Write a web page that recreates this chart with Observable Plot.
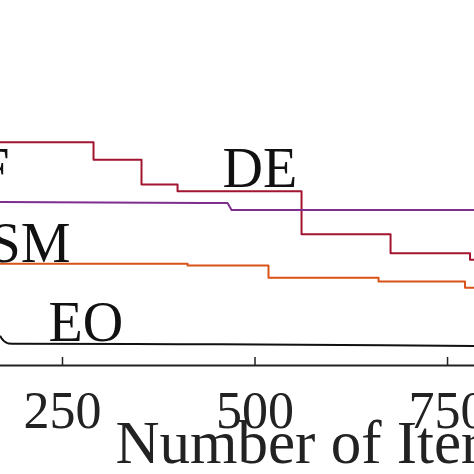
<!DOCTYPE html>
<html>
<head>
<meta charset="utf-8">
<script src="https://cdn.jsdelivr.net/npm/d3@7"></script>
<script src="https://cdn.jsdelivr.net/npm/@observablehq/plot@0.6"></script>
<style>
  html, body { margin: 0; padding: 0; background: #fff; overflow: hidden; }
  #chart svg { display: block; }
</style>
</head>
<body>
<div id="chart"></div>
<script>
// Iteration positions and fitness values (arbitrary units)
const deX = [169.5, 290.3, 352.6, 399.4, 560.4, 676, 779.2, 785];
const deY = [63.8, 58.8, 51.7, 49.8, 37.5, 32.1, 30.2, 30.2];

const purpleX = [169.5, 431.8, 464.3, 469.5, 785];
const purpleY = [46.7, 46.4, 46.4, 44.4, 44.4];

const smX = [169.5, 412.4, 517.5, 660.4, 772.7, 785];
const smY = [29.1, 28.6, 25.1, 24.0, 22.2, 22.2];

const eoX = [169.5, 171.5, 173.4, 176.5, 180, 190, 400, 559, 785];
const eoY = [8.3, 7.6, 7.1, 6.6, 6.3, 6.2, 6.1, 5.9, 5.6];

const xTicks = [250, 500, 750];

const labelText = ["F", "DE", "SM", "EO"];
const labelX = [181.2, 457.8, 260.4, 231.8];
const labelY = [50.9, 50.9, 29.7, 6.9];
const labelAnchor = ["end", "start", "end", "start"];

const toRows = (xs, ys) => xs.map((x, i) => ({x, y: ys[i]}));
const labels = labelText.map((t, i) => ({t, x: labelX[i], y: labelY[i], a: labelAnchor[i]}));

const font = "'Liberation Serif', 'Times New Roman', serif";

const chart = Plot.plot({
  width: 474,
  height: 474,
  marginLeft: 0,
  marginRight: 0,
  marginTop: 15,
  marginBottom: 109,
  style: {fontFamily: font, background: "#fff", overflow: "visible"},
  x: {domain: [169.5, 785]},
  y: {domain: [0, 100], axis: null},
  marks: [
    Plot.axisX({ticks: xTicks, tickSize: 0, tickPadding: 26, fontSize: 52, fontFamily: font, label: null, color: "#222"}),
    Plot.ruleY([0], {stroke: "#222", strokeWidth: 2}),
    Plot.ruleX(xTicks, {x: d => d, y1: 0, y2: 2.3, stroke: "#222", strokeWidth: 1.5}),
    Plot.line(toRows(deX, deY), {x: "x", y: "y", curve: "step-after", stroke: "#A2142F", strokeWidth: 2}),
    Plot.line(toRows(purpleX, purpleY), {x: "x", y: "y", curve: "linear", stroke: "#7E2F8E", strokeWidth: 2}),
    Plot.line(toRows(smX, smY), {x: "x", y: "y", curve: "step-after", stroke: "#D95319", strokeWidth: 2}),
    Plot.line(toRows(eoX, eoY), {x: "x", y: "y", curve: "monotone-x", stroke: "#111", strokeWidth: 2}),
    Plot.text(labels.filter(d => d.a === "start"), {x: "x", y: "y", text: "t", textAnchor: "start", lineAnchor: "bottom", fontSize: 56, fill: "#111"}),
    Plot.text(labels.filter(d => d.a === "end"), {x: "x", y: "y", text: "t", textAnchor: "end", lineAnchor: "bottom", fontSize: 56, fill: "#111"}),
    Plot.text(["Number of Iterations"], {frameAnchor: "bottom-left", dx: 115, dy: 97, textAnchor: "start", lineAnchor: "bottom", fontSize: 61, fill: "#222"})
  ]
});
document.getElementById("chart").appendChild(chart);
</script>
</body>
</html>
